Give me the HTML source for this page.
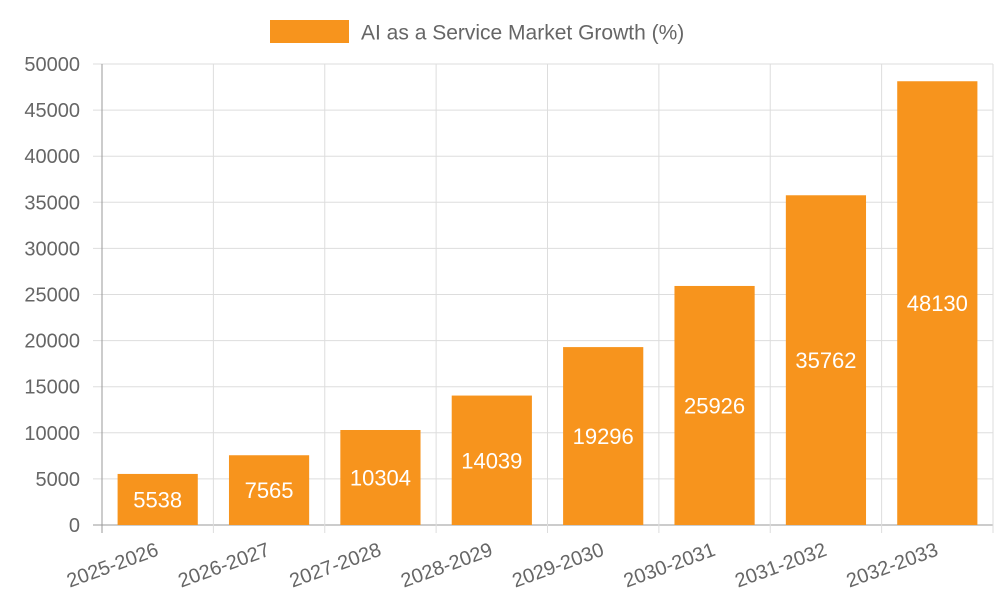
<!DOCTYPE html>
<html><head><meta charset="utf-8"><style>
body{margin:0;background:#fff;}
svg{display:block;font-family:"Liberation Sans",sans-serif;}
</style></head><body>
<svg id="chart" width="1000" height="600">
<g>
<rect x="270" y="20" width="79" height="23" fill="#f7941d"/>
<text x="361" y="39.5" font-size="21" fill="#666">AI as a Service Market Growth (%)</text>
</g>
<g id="grid"></g><g id="bars"></g><g id="labels"></g>
</svg>
<script>
const categories=["2025-2026","2026-2027","2027-2028","2028-2029","2029-2030","2030-2031","2031-2032","2032-2033"];
const values=[5538,7565,10304,14039,19296,25926,35762,48130];
const yTicks=[0,5000,10000,15000,20000,25000,30000,35000,40000,45000,50000];
const NS="http://www.w3.org/2000/svg";
const L=102,R=993,T=64,B=525,yMax=50000;
const band=(R-L)/categories.length;
const y=v=>B-(v/yMax)*(B-T);
const x=i=>L+band*i;
function mk(tag,attrs,parent,text){const e=document.createElementNS(NS,tag);for(const k in attrs)e.setAttribute(k,attrs[k]);if(text!==undefined)e.textContent=text;document.getElementById(parent).appendChild(e);return e;}
yTicks.forEach(t=>{
 const l=mk('line',{x1:93,x2:R,y1:y(t),y2:y(t),stroke:t===0?'#999':'#ddd','stroke-width':1},'grid');
 
 
 const tx=mk('text',{x:80,y:y(t)+7,'text-anchor':'end','font-size':20,fill:'#666'},'labels',String(t));
 
 
});
for(let i=0;i<=categories.length;i++){
 const l=mk('line',{x1:x(i),x2:x(i),y1:T,y2:B+8,stroke:i===0?'#999':'#ddd','stroke-width':1},'grid');
 
 
}
categories.forEach((c,i)=>{
 const bw=band*0.72,bx=x(i)+(band-bw)/2,v=values[i];
 const r=mk('rect',{x:bx,y:y(v),width:bw,height:B-y(v),fill:'#f7941d'},'bars');
 
 
 const vt=mk('text',{x:bx+bw/2,y:(y(v)+B)/2+8,'text-anchor':'middle','font-size':22,fill:'#fff'},'labels',String(v));
 
 
 const cx=x(i)+band/2;
 const xt=mk('text',{x:cx+2,y:B+30,'text-anchor':'end','font-size':20,fill:'#666',transform:'rotate(-20 '+(cx+2)+' '+(B+30)+')'},'labels',c);
 
 
});
</script>
</body></html>
